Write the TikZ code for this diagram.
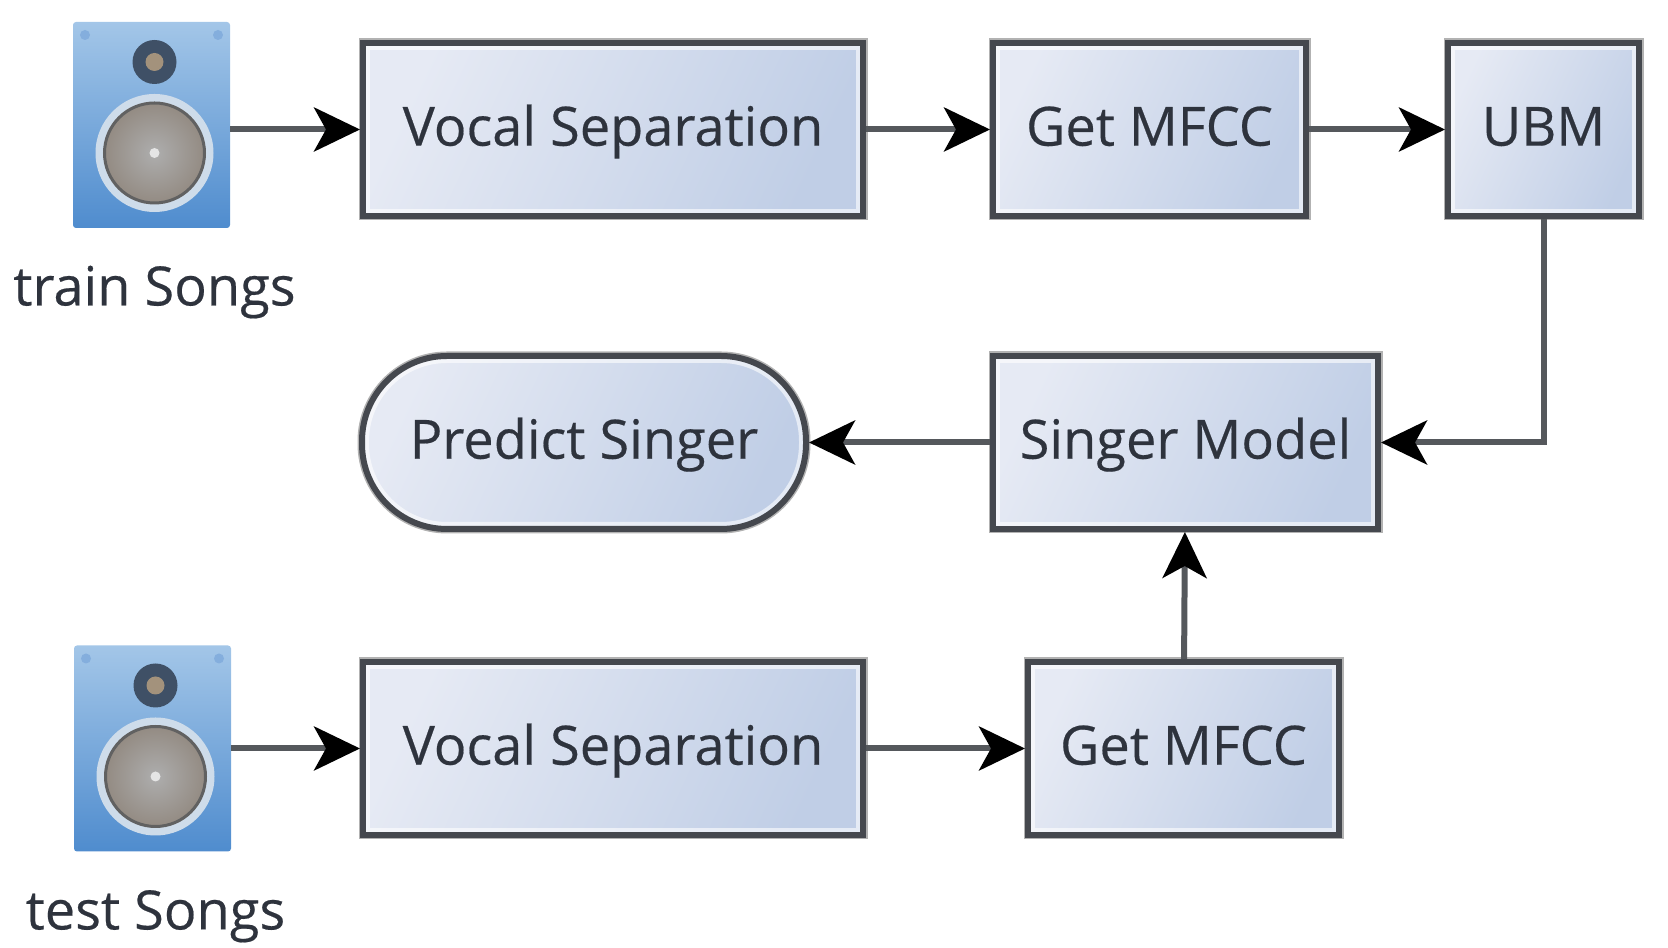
\documentclass[tikz,border=0pt]{standalone}
\usepackage{fontspec}
\setmainfont{Open Sans}[FakeBold=.35]
\definecolor{BoxLight}{HTML}{E6EAF4}
\definecolor{BoxDark}{HTML}{C0CEE6}
\definecolor{EdgeDark}{HTML}{45484E}
\definecolor{StemDark}{HTML}{55585C}
\definecolor{TextDark}{HTML}{2E333D}
\definecolor{SpkTop}{HTML}{A3C6E8}
\definecolor{SpkMid}{HTML}{8AB6E0}
\definecolor{SpkLow}{HTML}{4F8CCE}
\definecolor{TweetDark}{HTML}{3F5066}
\definecolor{TweetTan}{HTML}{A3927C}
\usetikzlibrary{arrows.meta,positioning}
\def\bh{1.73cm}

\begin{document}
\begin{tikzpicture}
[block/.style={font=\fontsize{15.4}{18}\selectfont,rectangle,minimum height=\bh,
   text=TextDark,text height=1.02em,text depth=.1em,draw=EdgeDark,line width=.06cm,
   preaction={draw=black!30,line width=.09cm},
   left color=BoxLight,right color=BoxDark,shading angle=65,inner sep=0pt,
   path picture={\draw[white,opacity=.6,line width=.14cm] (path picture bounding box.south west)
   rectangle (path picture bounding box.north east);}},
   spk/.style={rectangle,rounded corners=.03cm,minimum width=1.57cm,minimum height=2.06cm,
   top color=SpkTop,middle color=SpkMid,bottom color=SpkLow,inner sep=0pt,outer sep=0pt},
   lb/.style={text=TextDark,font=\fontsize{15.4}{18}\selectfont,inner sep=0pt},
regedge/.style={StemDark,line width=.06cm,-{Stealth[length=.46cm,width=.44cm,inset=.12cm,black]}}]
\useasboundingbox (0,0) rectangle (16.68,-9.48);

\node[spk] (trainspk) at (1.515,-1.25) {};
\node[block,minimum width=5cm,right=1.3cm of trainspk,shift={(0,-.045)}] (vocalone) {Vocal Separation};
\node[block,minimum width=3.13cm,right=1.24cm of vocalone] (mfccone) {Get MFCC};
\node[block,minimum width=1.91cm,right=1.36cm of mfccone] (ubm) {UBM};
\node[block,minimum width=3.85cm,below=1.34cm of mfccone.south west,anchor=north west] (singer) {Singer Model};
\node[block,minimum width=4.44cm,rounded corners=.85cm,left=1.81cm of singer] (predict) {Predict Singer};
\node[block,minimum width=3.11cm,below=1.27cm of singer,shift={(-.02,0)}] (mfcctwo) {Get MFCC};
\node[block,minimum width=5cm,left=1.59cm of mfcctwo] (vocaltwo) {Vocal Separation};
\node[spk,left=1.29cm of vocaltwo] (testspk) {};
\node[lb,below=.37cm of trainspk,shift={(.03,0)}] (trainlb) {train Songs};
\node[lb,below=.38cm of testspk,shift={(.03,0)}] (testlb) {test Songs};

% speaker front
\foreach \spkname in {trainspk,testspk} {
   \fill[SpkLow!70] (\spkname.north west)++(.12,-.13) circle (.05);
   \fill[SpkLow!70] (\spkname.north east)++(-.12,-.13) circle (.05);
   \fill[black!10!SpkTop!45!white] (\spkname.center)++(.03,-.28) circle (.59);
   \shade[inner color=black!32,outer color=brown!25!black!52,draw=black!62,line width=.03cm]
      (\spkname.center)++(.03,-.28) circle (.5);
   \fill[black!10] (\spkname.center)++(.03,-.28) circle (.05);
   \fill[TweetDark] (\spkname.center)++(.03,.63) circle (.22);
   \fill[TweetTan] (\spkname.center)++(.03,.63) circle (.09);
}

\draw[regedge] (trainspk.east |- vocalone) -- (vocalone);
\draw[regedge] (vocalone) -- (mfccone);
\draw[regedge] (mfccone) -- (ubm);
\draw[regedge] (ubm.south) |- (singer.east);
\draw[regedge] (singer) -- (predict);
\draw[regedge] (mfcctwo) -- (singer);
\draw[regedge] (testspk) -- (vocaltwo);
\draw[regedge] (vocaltwo) -- (mfcctwo);
%%
\end{tikzpicture}
\end{document}
